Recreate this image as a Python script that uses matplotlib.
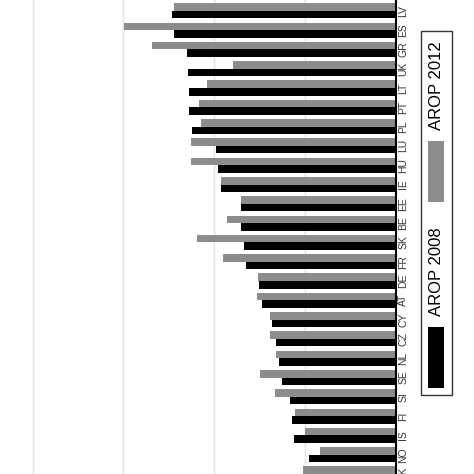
import matplotlib.pyplot as plt
from matplotlib.patches import Rectangle

# категории сверху вниз (на картинке график повёрнут)
countries = ["LV", "ES", "GR", "UK", "LT", "PT", "PL", "LU", "HU", "IE", "EE", "BE", "SK",
             "FR", "DE", "AT", "CY", "CZ", "NL", "SE", "SI", "FI", "IS", "NO", "DK"]
arop_2012 = [24.4, 29.9, 26.9, 17.9, 20.8, 21.7, 21.5, 22.6, 22.6, 19.2, 17.0, 18.6, 21.9,
             19.0, 15.2, 15.3, 13.9, 13.9, 13.2, 15.0, 13.3, 11.1, 10.0, 8.3, 10.2]
arop_2008 = [24.6, 24.4, 23.0, 22.9, 22.8, 22.8, 22.4, 19.8, 19.6, 19.2, 17.1, 17.1, 16.7,
             16.5, 15.1, 14.7, 13.6, 13.2, 12.9, 12.5, 11.7, 11.4, 11.2, 9.5, 9.0]
legend_labels = ["AROP 2008", "AROP 2012"]

c_2012 = "#8c8c8c"
c_2008 = "#000000"

plt.rcParams["font.family"] = ["Liberation Sans", "DejaVu Sans"]
fig = plt.figure(figsize=(4.74, 4.74), dpi=100)
W = H = 474.0
ax = fig.add_axes([0, 0, 395.7 / W, 1])

pos = list(range(len(countries)))
h = 0.39
ax.barh([p - h / 2 for p in pos], arop_2012, height=h, color=c_2012, zorder=2)
ax.barh([p + h / 2 for p in pos], arop_2008, height=h, color=c_2008, zorder=2)

ax.set_xlim(43.6, 0)
ax.set_ylim(24.0, -0.56)

ax.set_xticks([10, 20, 30, 40])
ax.xaxis.grid(True, color="#e4e4e4", linewidth=1.0, zorder=0)
ax.tick_params(axis="x", length=0, labelbottom=False)

ax.yaxis.tick_right()
ax.set_yticks(pos)
ax.set_yticklabels(countries, rotation=90, va="center", ha="left", fontsize=7.5, color="#333333")
ax.tick_params(axis="y", length=0, pad=2)

for s in ["top", "bottom", "left"]:
    ax.spines[s].set_visible(False)
ax.spines["right"].set_linewidth(1.5)
ax.spines["right"].set_color("black")

# легенда (повёрнутая вручную)
def fx(px):
    return px / W

def fy(py):
    return 1 - py / H

box_x0, box_x1, box_y0, box_y1 = 421, 452, 31, 395
fig.patches.append(Rectangle((fx(box_x0), fy(box_y1)), fx(box_x1 - box_x0), (box_y1 - box_y0) / H,
                             transform=fig.transFigure, facecolor="white", edgecolor="#333333",
                             linewidth=1.0))
fig.patches.append(Rectangle((fx(428), fy(388)), fx(16), 61 / H, transform=fig.transFigure,
                             facecolor=c_2008, edgecolor="none"))
fig.patches.append(Rectangle((fx(428), fy(201.5)), fx(16), 61 / H, transform=fig.transFigure,
                             facecolor=c_2012, edgecolor="none"))
fig.text(fx(436.5), fy(272), legend_labels[0], rotation=90, ha="center", va="center", fontsize=12)
fig.text(fx(436.5), fy(86), legend_labels[1], rotation=90, ha="center", va="center", fontsize=12)

fig.savefig("out.png", dpi=100)
